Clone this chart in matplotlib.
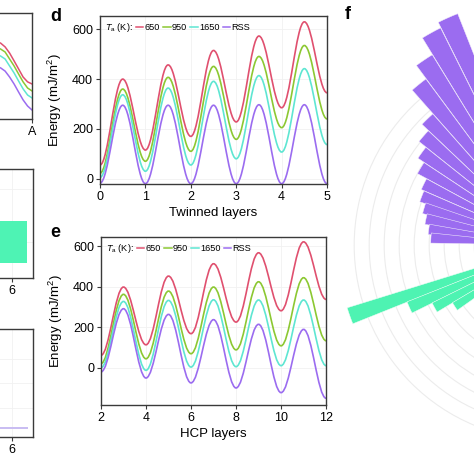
import numpy as np
import matplotlib
matplotlib.use("Agg")
import matplotlib.pyplot as plt
from matplotlib.path import Path
from matplotlib.patches import PathPatch
from matplotlib.lines import Line2D

plt.rcParams["font.family"] = ["Liberation Sans", "DejaVu Sans"]
plt.rcParams["mathtext.fontset"] = "custom"
plt.rcParams["mathtext.rm"] = "Liberation Sans"
plt.rcParams["mathtext.it"] = "Liberation Sans:italic"

# ---- data ----
temps = ["650", "950", "1650", "RSS"]
colors = ["#e0506f", "#8cc832", "#5ee6d2", "#9b6cf0"]

# panel c (only its right end is visible)
c_x = [0.86, 0.88, 0.90, 0.92, 0.94, 0.96, 0.98, 1.0]
c_650 = [358, 340, 311, 274, 236, 198, 175, 165]
c_950 = [330, 316, 283, 250, 212, 175, 146, 132]
c_1650 = [297, 283, 250, 217, 179, 142, 113, 99]
c_rss = [241, 226, 198, 165, 127, 90, 61, 42]

# panel d: extrema of the energy curves vs twinned layers
d_x = [0, 0.5, 1, 1.5, 2, 2.5, 3, 3.5, 4, 4.5, 5]
d_650 = [55, 400, 115, 457, 170, 515, 228, 573, 285, 630, 345]
d_950 = [22, 360, 70, 407, 110, 451, 158, 491, 205, 535, 240]
d_1650 = [5, 337, 30, 364, 55, 391, 80, 414, 107, 442, 137]
d_rss = [-18, 295, -20, 295, -20, 295, -20, 297, -20, 297, -20]

# panel e: extrema vs HCP layers
e_x = [2, 3, 4, 5, 6, 7, 8, 9, 10, 11, 12]
e_650 = [61, 398, 113, 452, 168, 513, 225, 567, 281, 621, 337]
e_950 = [20, 362, 44, 378, 69, 398, 88, 424, 108, 444, 133]
e_1650 = [0, 327, -13, 332, 3, 335, 5, 334, 10, 334, 10]
e_rss = [-21, 291, -51, 263, -75, 237, -100, 214, -123, 189, -151]

# left bar panels (partly visible)
bar_mid = 6.74
bar_low = 6.74

# panel f: polar bars
f_purple_theta = [114, 119, 124, 129, 134, 139, 144, 149, 154, 159, 163.5, 168, 172.5, 176.5]
f_purple_r = [16.6, 16.2, 14.9, 13.8, 11.7, 11.1, 10.5, 10.0, 9.3, 9.1, 8.7, 8.4, 8.1, 7.9]
f_green_theta = [199.5, 204, 208.5, 213]
f_green_r = [14.1, 10.2, 8.7, 7.5]


def smooth_path(xs, ys, k=0.3634):
    # cubic Bezier through the extrema, flat at every peak and valley
    verts = [(xs[0], ys[0])]
    codes = [Path.MOVETO]
    for i in range(len(xs) - 1):
        dx = xs[i + 1] - xs[i]
        verts += [(xs[i] + k * dx, ys[i]), (xs[i + 1] - k * dx, ys[i + 1]), (xs[i + 1], ys[i + 1])]
        codes += [Path.CURVE4] * 3
    return Path(verts, codes)


def style_axes(ax):
    for s in ax.spines.values():
        s.set_color("#3a3a3a")
        s.set_linewidth(1.0)
    ax.tick_params(direction="out", length=3, width=0.8, color="#3a3a3a", labelsize=9, pad=2)
    ax.grid(color="#f1f1f1", linewidth=0.6)
    ax.set_axisbelow(True)


fig = plt.figure(figsize=(4.74, 4.74), dpi=100)

# ---- panel f (polar), drawn first so it stays behind ----
axf = fig.add_axes([0.589, -0.087, 1.1392, 1.1392], projection="polar")
axf.patch.set_visible(False)
axf.bar(np.deg2rad(f_purple_theta), f_purple_r, width=np.deg2rad(4.9), bottom=0,
        color="#9b6cf0", edgecolor="#f4f0fb", linewidth=0.35, zorder=3)
axf.bar(np.deg2rad(f_green_theta), f_green_r, width=np.deg2rad(4.6), bottom=0,
        color="#4ef3b2", edgecolor="#effdf7", linewidth=0.35, zorder=3)
axf.set_ylim(0, 18)
axf.set_yticks(range(1, 14))
axf.set_yticklabels([])
axf.set_xticks([])
axf.yaxis.grid(True, color="#ececec", linewidth=0.8)
axf.spines["polar"].set_visible(False)

# ---- panel c (cropped) ----
axc = fig.add_axes([-0.407, 0.749, 0.4747, 0.2236])
for vals, col in zip([c_650, c_950, c_1650, c_rss], colors):
    axc.plot(c_x, vals, color=col, lw=1.1)
axc.set_xlim(0, 1)
axc.set_ylim(0, 500)
axc.set_xticks([1])
axc.set_xticklabels(["A"])
axc.set_yticks([])
style_axes(axc)
axc.grid(False)

# ---- bar panels on the left (cropped, only the tick at 6 is in view) ----
axb1 = fig.add_axes([-0.241, 0.4135, 0.310, 0.23])
axb1.barh([0], [bar_mid], height=0.8, color="#4ef3b4")
axb1.set_xlim(0, 7)
axb1.set_ylim(-0.69, 1.39)
axb1.set_xticks([6])
axb1.set_yticks([0, 1])
axb1.set_yticklabels([])
style_axes(axb1)

axb2 = fig.add_axes([-0.24, 0.078, 0.310, 0.228])
axb2.barh([0], [bar_low], height=0.015, color="#c9bdf2")
axb2.set_xlim(0, 7)
axb2.set_ylim(-0.09, 1)
axb2.set_xticks([6])
axb2.set_yticks([0.2, 0.45, 0.7])
axb2.set_yticklabels([])
style_axes(axb2)


def energy_panel(rect, xs, series, xlim, ylim, xticks, xlabel):
    ax = fig.add_axes(rect)
    for vals, col in zip(series, colors):
        ax.add_patch(PathPatch(smooth_path(xs, vals), fill=False, edgecolor=col, lw=1.2))
    ax.set_xlim(*xlim)
    ax.set_ylim(*ylim)
    ax.set_xticks(xticks)
    ax.set_yticks([0, 200, 400, 600])
    ax.set_xlabel(xlabel, fontsize=9.5, labelpad=3)
    ax.set_ylabel("Energy (mJ/m$^2$)", fontsize=9.5, labelpad=6)
    style_axes(ax)
    handles = [Line2D([], [], linestyle="none", label=r"$T_{\rm a}$ (K):")]
    handles += [Line2D([], [], color=c, lw=1.1, label=t) for c, t in zip(colors, temps)]
    ax.legend(handles=handles, loc="upper left", bbox_to_anchor=(-0.045, 1.01), ncol=5,
              frameon=False, fontsize=6.6, handlelength=0.8, handletextpad=0.15,
              columnspacing=0.35, borderaxespad=0.3)
    return ax


axd = energy_panel([0.211, 0.612, 0.479, 0.354], d_x, [d_650, d_950, d_1650, d_rss],
                   (0, 5), (-21, 653), range(0, 6), "Twinned layers")
axe = energy_panel([0.213, 0.1456, 0.475, 0.354], e_x, [e_650, e_950, e_1650, e_rss],
                   (2, 12), (-184, 644), range(2, 13, 2), "HCP layers")

# panel letters
fig.text(0.105, 0.965, "d", fontsize=13, fontweight="bold", va="center")
fig.text(0.105, 0.51, "e", fontsize=13, fontweight="bold", va="center")
fig.text(0.727, 0.97, "f", fontsize=13, fontweight="bold", va="center")

fig.savefig("out.png", dpi=100)
